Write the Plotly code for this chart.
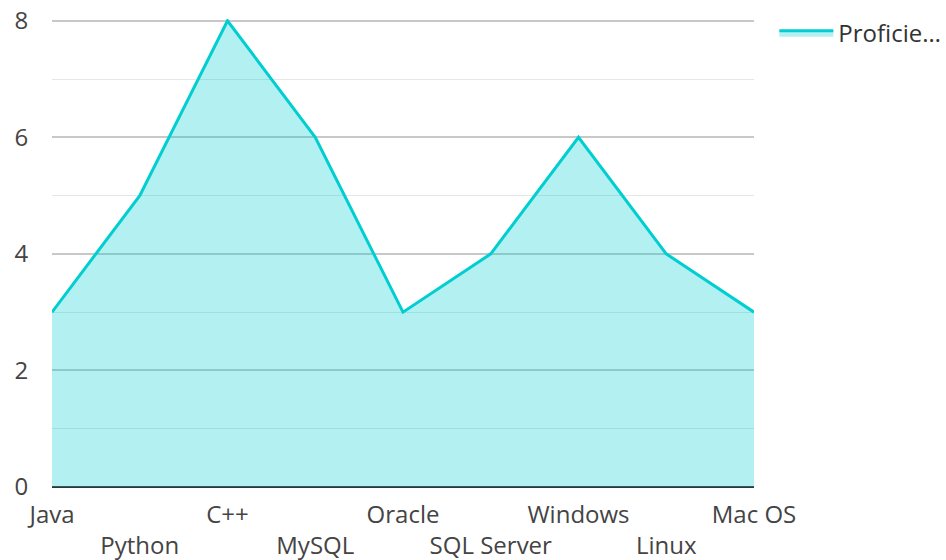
import plotly.graph_objects as go

categories = ["Java", "Python", "C++", "MySQL", "Oracle", "SQL Server", "Windows", "Linux", "Mac OS"]
values = [3, 5, 8, 6, 3, 4, 6, 4, 3]
series_name = "Proficie…"

ticktext = [c if i % 2 == 0 else "<br>" + c for i, c in enumerate(categories)]

fig = go.Figure()
fig.add_trace(go.Scatter(
    x=categories, y=values, mode="lines", name=series_name,
    line=dict(color="#00CED1", width=3),
    fill="tozeroy", fillcolor="rgba(0,206,209,0.3)",
    cliponaxis=False,
))

fig.update_layout(
    width=946, height=560,
    margin=dict(l=52, r=192, t=19, b=73, autoexpand=False),
    paper_bgcolor="white", plot_bgcolor="white",
    font=dict(family="Open Sans", size=24, color="#444444"),
    showlegend=True,
    legend=dict(x=1.029, y=0.97, xanchor="left", yanchor="middle", itemwidth=54,
                font=dict(size=24, color="#333333"), bgcolor="rgba(0,0,0,0)"),
    xaxis=dict(
        type="category", tickmode="array", tickvals=categories, ticktext=ticktext,
        range=[0, len(categories) - 1], showgrid=False, zeroline=False,
        showline=False, ticks="outside", ticklen=6, tickcolor="rgba(0,0,0,0)",
        tickangle=0, automargin=False, ticklabeloverflow="allow",
    ),
    yaxis=dict(
        range=[0, 8.03], dtick=2, showgrid=True, gridcolor="#C8C8C8", gridwidth=1.5,
        minor=dict(dtick=1, showgrid=True, gridcolor="#E6E6E6", gridwidth=1),
        zeroline=True, zerolinecolor="#333333", zerolinewidth=2,
        showline=False, ticks="outside", ticklen=18, tickcolor="rgba(0,0,0,0)",
        automargin=False, ticklabeloverflow="allow",
    ),
)

fig.write_html(
    "out.html",
    config={"displayModeBar": False},
    post_script="document.body.style.margin='0';document.body.style.overflow='hidden';",
)
